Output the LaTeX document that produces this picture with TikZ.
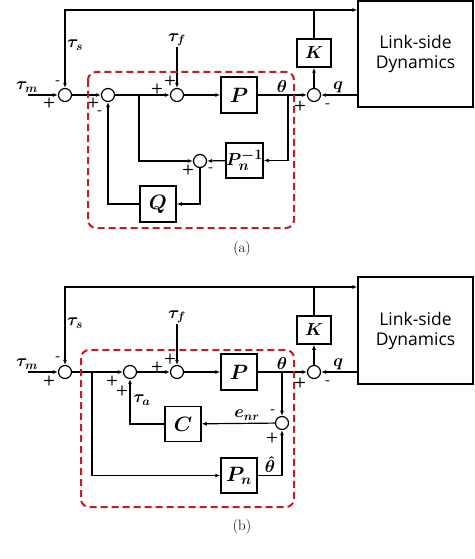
\documentclass[tikz,border=0pt]{standalone}
\usepackage{fontspec}
\newfontfamily\linkfont{Open Sans}
\usetikzlibrary{arrows.meta}
\definecolor{dashred}{RGB}{196,28,36}

\begin{document}
\begin{tikzpicture}[x=1pt, y=-1pt, line width=1.2pt, >={Latex[length=5pt,width=4pt]},
		sum/.style={draw, circle, minimum size=13pt, inner sep=0pt},
		block/.style={draw, line width=1.5pt, minimum width=36pt, minimum height=36pt, inner sep=0pt, font=\fontsize{22}{24}\selectfont\boldmath},
		linkbox/.style={draw, line width=1.5pt, minimum width=115pt, inner sep=0pt, align=center, font=\linkfont\fontsize{17.5}{20}\selectfont},
		lbl/.style={inner sep=0pt, font=\fontsize{17}{19}\selectfont\boldmath},
		sgn/.style={inner sep=0pt, font=\fontsize{14}{14}\selectfont\bfseries\sffamily},
		frame/.style={draw=dashred, dash pattern=on 7pt off 4pt, line width=2pt, rounded corners=8pt}]
		\useasboundingbox (0,0) rectangle (474,559);

		% (a)
		\node[lbl] (taum) at (27,87) {$\tau_m$};
		\coordinate (ina) at (28,95);
		\node[sum] (s1) at (65,95) {};
		\node[sum] (s2) at (108,95) {};
		\node[sum] (s3) at (177,95) {};
		\node[block] (P) at (239,95) {$P$};
		\node[sum] (s4) at (314,95) {};
		\node[block, minimum width=34pt, minimum height=28pt, font=\fontsize{19}{21}\selectfont\boldmath] (K) at (314,53) {$K$};
		\node[linkbox, minimum height=106pt] (link) at (415.5,54) {Link-side\\Dynamics};
		\node[sum] (s5) at (200,161) {};
		\node[block, minimum width=35pt, minimum height=35pt, font=\fontsize{19}{21}\selectfont\boldmath] (Pinv) at (244.5,160.5) {$P_n^{-1}$};
		\node[block] (Q) at (158,204) {$Q$};
		\node[lbl] (tauf) at (177,40) {$\tau_f$};
		\node[lbl] (taus) at (75,45) {$\tau_s$};
		\node[lbl, anchor=south] (tha) at (282,93) {$\theta$};
		\node[lbl, anchor=south] (qa) at (338,93) {$q$};
		\coordinate (topa) at (314,10);
		\coordinate (bra) at (139,95);
		\coordinate (thba) at (288,95);

		\draw[->] (ina) -- (s1);
		\draw[->] (s1) -- (s2);
		\draw[->] (s2) -- (s3);
		\draw[->] (s3) -- (P);
		\draw[->] (P) -- (s4);
		\draw[->] (link.west |- s4) -- (s4);
		\draw[->] (s4) -- (K);
		\draw (K) -- (topa);
		\draw[->] (topa) -| (s1);
		\draw[->] (topa) -- (link.west |- topa);
		\draw[->] (tauf) -- (s3);
		\draw[->] (thba) |- (Pinv);
		\draw[->] (Pinv) -- (s5);
		\draw[->] (bra) |- (s5);
		\draw[->] (s5) |- (Q);
		\draw[->] (Q) -| (s2);

		\node[sgn] at (58,83) {-};
		\node[sgn] at (49,103) {+};
		\node[sgn] at (93,103) {+};
		\node[sgn] at (100,113) {-};
		\node[sgn] at (157,89) {+};
		\node[sgn] at (170,81) {+};
		\node[sgn] at (300,106) {+};
		\node[sgn] at (328,106) {-};
		\node[sgn] at (188,170) {+};
		\node[sgn] at (211,170) {-};

		\draw[frame] (88,72) rectangle (294,228);
		\node[font=\fontsize{15}{17}\selectfont] (capa) at (242,249) {(a)};

		% (b)
		\node[lbl] (taumb) at (27,364) {$\tau_m$};
		\coordinate (inb) at (28,372);
		\node[sum] (s1b) at (65,372) {};
		\node[sum] (s2b) at (130,372) {};
		\node[sum] (s3b) at (177,372) {};
		\node[block] (Pb) at (239,372) {$P$};
		\node[sum] (s4b) at (314,372) {};
		\node[block, minimum width=34pt, minimum height=28pt, font=\fontsize{19}{21}\selectfont\boldmath] (Kb) at (314,330) {$K$};
		\node[linkbox, minimum height=107pt] (linkb) at (415.5,330.5) {Link-side\\Dynamics};
		\node[sum] (s5b) at (282,423) {};
		\node[block, minimum height=35pt] (Cb) at (183,424) {$C$};
		\node[block, minimum height=35pt] (Pnb) at (239,475.5) {$P_n$};
		\node[lbl] (taufb) at (177,317) {$\tau_f$};
		\node[lbl] (tausb) at (75,323) {$\tau_s$};
		\node[lbl, anchor=south] (thb) at (282,370) {$\theta$};
		\node[lbl, anchor=south] (qb) at (338,370) {$q$};
		\node[lbl] (taua) at (142,400) {$\tau_a$};
		\node[lbl, anchor=south] (enr) at (247,421) {$e_{nr}$};
		\node[lbl, anchor=south] (thhat) at (270,473) {$\hat{\theta}$};
		\coordinate (topb) at (314,287);
		\coordinate (brb) at (92,372);
		\coordinate (thbb) at (282,372);

		\draw[->] (inb) -- (s1b);
		\draw[->] (s1b) -- (s2b);
		\draw[->] (s2b) -- (s3b);
		\draw[->] (s3b) -- (Pb);
		\draw[->] (Pb) -- (s4b);
		\draw[->] (linkb.west |- s4b) -- (s4b);
		\draw[->] (s4b) -- (Kb);
		\draw (Kb) -- (topb);
		\draw[->] (topb) -| (s1b);
		\draw[->] (topb) -- (linkb.west |- topb);
		\draw[->] (taufb) -- (s3b);
		\draw[->] (thbb) -- (s5b);
		\draw[->] (s5b) -- (Cb);
		\draw[->] (Cb) -| (s2b);
		\draw[->] (brb) |- (Pnb);
		\draw[->] (Pnb) -| (s5b);

		\node[sgn] at (58,359) {-};
		\node[sgn] at (49,381) {+};
		\node[sgn] at (112,381) {+};
		\node[sgn] at (122,391) {+};
		\node[sgn] at (157,367) {+};
		\node[sgn] at (170,359) {+};
		\node[sgn] at (300,383) {+};
		\node[sgn] at (328,383) {-};
		\node[sgn] at (273,412) {-};
		\node[sgn] at (272,438) {+};

		\draw[frame] (81,350) rectangle (294,507);
		\node[font=\fontsize{15}{17}\selectfont] (capb) at (242,527) {(b)};
	\end{tikzpicture}
\end{document}
